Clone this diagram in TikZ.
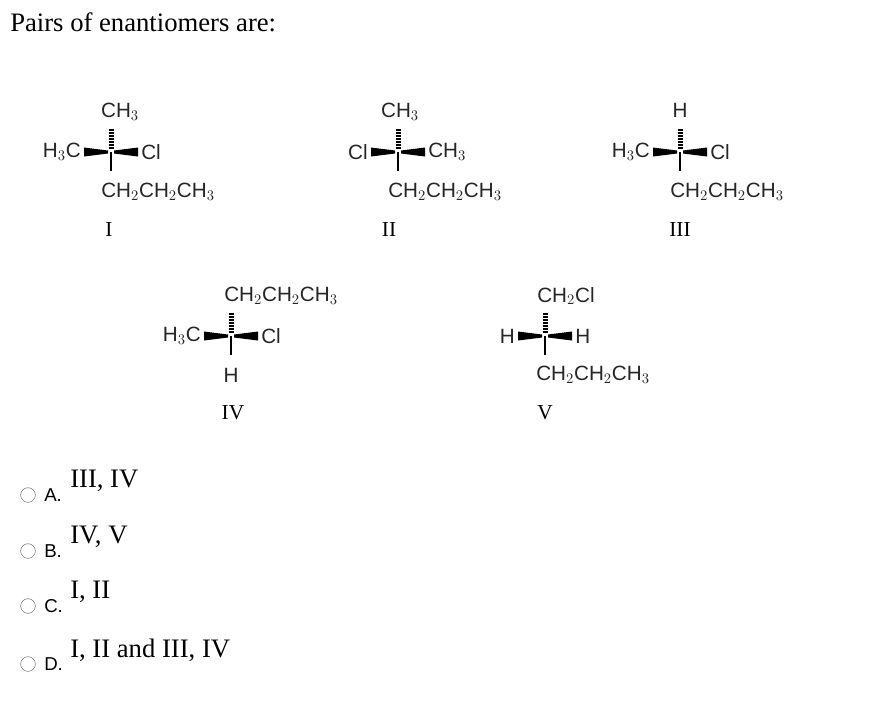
\documentclass[tikz,border=0pt]{standalone}
\usepackage{fontspec}
\setmainfont{Liberation Serif}
\newfontfamily\grp{Liberation Sans}
\begin{document}
\begin{tikzpicture}[x=0.75pt,y=-0.75pt,
  grp/.style={font=\grp\fontsize{15.5}{17}\selectfont,inner sep=0pt,text=black!85},
  lab/.style={font=\fontsize{16}{18}\selectfont,inner sep=0pt},
  opt/.style={font=\grp\fontsize{14}{16}\selectfont,inner sep=0pt},
  ans/.style={font=\fontsize{20}{22}\selectfont,inner sep=0pt},
  radio/.style={draw=black!55,circle,minimum size=11pt,inner sep=0pt}]
\useasboundingbox (0,0) rectangle (895,704);
\newcommand\stereoC[3]{% x y name
  \coordinate (#3) at (#1,#2);
  \fill (#1-27,#2-4.5) -- (#1-3,#2-1.5) -- (#1-3,#2+1.5) -- (#1-27,#2+4.5) -- cycle;
  \fill (#1+27,#2-4.5) -- (#1+3,#2-1.5) -- (#1+3,#2+1.5) -- (#1+27,#2+4.5) -- cycle;
  \foreach \k in {4,7,...,22} {\draw[line width=0.9pt] (#1-2.5,#2-\k) -- (#1+2.5,#2-\k);}
  \draw[line width=0.8pt] (#3) -- (#1,#2+19);
}
\node[anchor=west,font=\fontsize{20}{22}\selectfont,inner sep=0pt] (title) at (10,22) {Pairs of enantiomers are:};
% I
\stereoC{111}{152}{cI}
\node[grp] (Itop) at (120,112) {CH$_3$};
\node[grp,anchor=east] (Ileft) at (81,152) {H$_3$C};
\node[grp,anchor=west] (Iright) at (141,152) {Cl};
\node[grp,anchor=west] (Ibot) at (101,192) {CH$_2$CH$_2$CH$_3$};
\node[lab] (Il) at (109,230) {I};
% II
\stereoC{398}{152}{cII}
\node[grp] (IItop) at (400,112) {CH$_3$};
\node[grp,anchor=east] (IIleft) at (368,152) {Cl};
\node[grp,anchor=west] (IIright) at (428,152) {CH$_3$};
\node[grp,anchor=west] (IIbot) at (388,192) {CH$_2$CH$_2$CH$_3$};
\node[lab] (IIl) at (389,230) {II};
% III
\stereoC{680}{152}{cIII}
\node[grp] (IIItop) at (680,110) {H};
\node[grp,anchor=east] (IIIleft) at (650,152) {H$_3$C};
\node[grp,anchor=west] (IIIright) at (710,152) {Cl};
\node[grp,anchor=west] (IIIbot) at (670,192) {CH$_2$CH$_2$CH$_3$};
\node[lab] (IIIl) at (680,230) {III};
% IV
\stereoC{231}{336}{cIV}
\node[grp,anchor=west] (IVtop) at (224,296) {CH$_2$CH$_2$CH$_3$};
\node[grp,anchor=east] (IVleft) at (201,336) {H$_3$C};
\node[grp,anchor=west] (IVright) at (261,336) {Cl};
\node[grp] (IVbot) at (231,375) {H};
\node[lab] (IVl) at (233,413) {IV};
% V
\stereoC{545}{336}{cV}
\node[grp,anchor=west] (Vtop) at (537,296) {CH$_2$Cl};
\node[grp,anchor=east] (Vleft) at (515,336) {H};
\node[grp,anchor=west] (Vright) at (575,336) {H};
\node[grp,anchor=west] (Vbot) at (536,375) {CH$_2$CH$_2$CH$_3$};
\node[lab] (Vl) at (545,413) {V};
% options
\foreach \y/\L/\t/\n in {495/A./{III, IV}/a, 551/B./{IV, V}/b, 606/C./{I, II}/c, 664/D./{I, II and III, IV}/d} {
  \node[radio] (r\n) at (28,\y) {};
  \node[opt,anchor=west] (o\n) at (44,\y) {\L};
  \node[ans,anchor=west] (t\n) at (70,\y-14) {\t};
}
\end{tikzpicture}
\end{document}
